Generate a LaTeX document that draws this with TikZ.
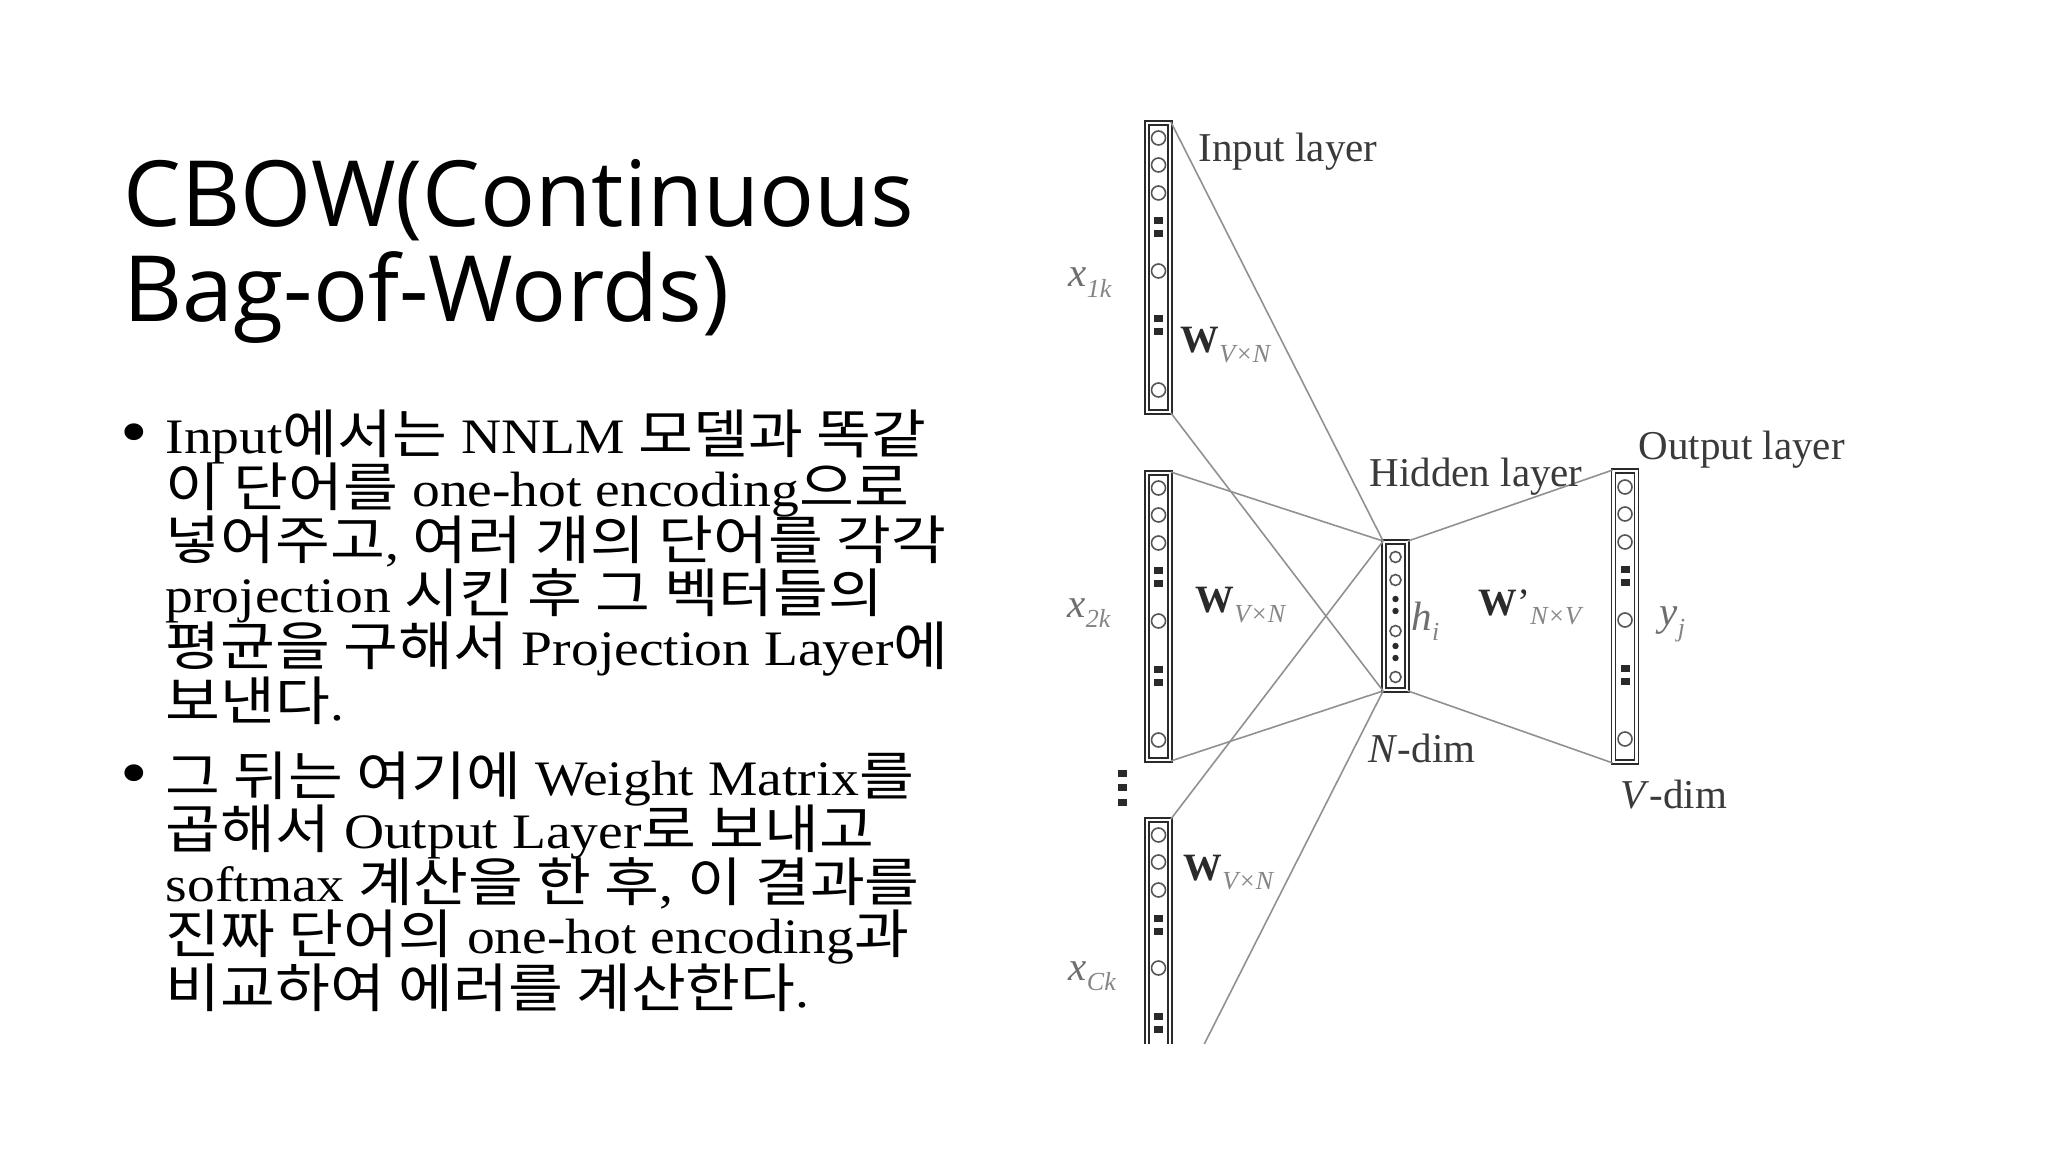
\documentclass[tikz,border=0pt]{standalone}
\usepackage{fontspec}
\setmainfont{Liberation Serif}
\newfontfamily\bodyfont[FakeStretch=1.12]{Liberation Serif}
\newfontfamily\krfont[FakeStretch=1.13]{Noto Sans CJK KR}
\newfontfamily\titlefont{Open Sans}
\definecolor{bx}{HTML}{2A2A2A}
\definecolor{cc}{HTML}{555555}
\definecolor{ln}{HTML}{909090}
\definecolor{dg}{HTML}{3A3A3A}
\definecolor{lg}{HTML}{6E6E6E}
\definecolor{sg}{HTML}{858585}
\newcommand{\hg}[1]{{\krfont\fontsize{15}{15}\selectfont #1}}
\newcommand{\lsub}[1]{\raisebox{-0.55ex}{\fontsize{7.4}{7.4}\selectfont\itshape\color{sg}#1}}
\newcommand{\inunits}[2]{%
  \foreach \o in {15,42,70,148,267} {\draw[unit] (#1,#2+\o) circle (7);}
  \foreach \o in {98,111,196,209} {\fill[bx] (#1-4.5,#2+\o-3.5) rectangle ++(9,7);}
}
\begin{document}
\begin{tikzpicture}[x=0.01cm,y=-0.01cm,
  title/.style={anchor=base west, inner sep=0, font=\titlefont\fontsize{26}{26}\selectfont},
  body/.style={anchor=base west, inner sep=0, font=\bodyfont\fontsize{14.1}{14.1}\selectfont},
  bul/.style={anchor=center, inner sep=0, font=\bodyfont\fontsize{20}{20}\selectfont},
  lbl/.style={anchor=base west, inner sep=0, text=dg, font=\fontsize{11.66}{11.66}\selectfont},
  vlbl/.style={anchor=base west, inner sep=0, text=lg, font=\fontsize{11.66}{11.66}\selectfont\itshape},
  wlbl/.style={anchor=base west, inner sep=0, text=bx, font=\fontsize{11}{11}\selectfont},
  layerbox/.style={rectangle, draw=bx, line width=0.5pt, double=white, double distance=0.6pt, minimum width=0.23cm, inner sep=0},
  conn/.style={draw=ln, line width=0.45pt},
  unit/.style={draw=cc, line width=0.45pt, fill=white}
]
\useasboundingbox (0,0) rectangle (2048,1152);
\fill[white] (0,0) rectangle (2048,1152);

% Title
\node[title] (t1) at (123,227) {CBOW(Continuous};
\node[title] (t2) at (123,322) {Bag-of-Words)};

% Bullet 1
\node[bul] (b1) at (134,440) {•};
\node[body] (l1) at (165,454) {Input\hg{에서는} NNLM \hg{모델과 똑같}};
\node[body] (l2) at (165,507) {\hg{이 단어를} one-hot encoding\hg{으로}};
\node[body] (l3) at (165,560) {\hg{넣어주고}, \hg{여러 개의 단어를 각각}};
\node[body] (l4) at (165,613) {projection \hg{시킨 후 그 벡터들의}};
\node[body] (l5) at (165,666) {\hg{평균을 구해서} Projection Layer\hg{에}};
\node[body] (l6) at (165,720) {\hg{보낸다}.};

% Bullet 2
\node[bul] (b2) at (134,781) {•};
\node[body] (m1) at (165,795) {\hg{그 뒤는 여기에} Weight Matrix\hg{를}};
\node[body] (m2) at (165,848) {\hg{곱해서} Output Layer\hg{로 보내고}};
\node[body] (m3) at (165,901) {softmax \hg{계산을 한 후}, \hg{이 결과를}};
\node[body] (m4) at (165,953) {\hg{진짜 단어의} one-hot encoding\hg{과}};
\node[body] (m5) at (165,1007) {\hg{비교하여 에러를 계산한다}.};

% Diagram
\begin{scope}
\clip (1000,0) rectangle (2048,1043);
\node[layerbox, minimum height=2.89cm] (in1) at (1158.5,267.5) {};
\node[layerbox, minimum height=2.87cm] (in2) at (1158.5,616.5) {};
\node[layerbox, minimum height=2.89cm] (in3) at (1158.5,964.5) {};
\node[layerbox, minimum height=1.48cm] (hid) at (1395.5,616) {};
\node[layerbox, minimum height=2.91cm] (out) at (1625,616.5) {};

\draw[conn] (in1.north east) -- (hid.north west);
\draw[conn] (in1.south east) -- (hid.south west);
\draw[conn] (in2.north east) -- (hid.north west);
\draw[conn] (in2.south east) -- (hid.south west);
\draw[conn] (in3.north east) -- (hid.north west);
\draw[conn] (in3.south east) -- (hid.south west);
\draw[conn] (hid.north east) -- (out.north west);
\draw[conn] (hid.south east) -- (out.south west);

\inunits{1158.5}{123}
\inunits{1158.5}{473}
\inunits{1158.5}{820}
\inunits{1625}{472}
\foreach \o in {15,38,89,135} {\draw[unit] (1395.5,542+\o) circle (5.5);}
\foreach \o in {57,69,104,116} {\fill[bx] (1395.5,542+\o) circle (3.2);}
\foreach \yy in {773,787,802} {\fill[bx] (1117.5,\yy-3.5) rectangle ++(9,7);}
\end{scope}

\node[lbl] (il) at (1198,162) {Input layer};
\node[lbl] (hl) at (1369,487) {Hidden layer};
\node[lbl] (ol) at (1638,460) {Output layer};
\node[lbl] (nd) at (1368,762) {\textit{N}-dim};
\node[lbl] (vd) at (1620,808) {\textit{V}-dim};

\node[vlbl] (x1) at (1068,287) {x\lsub{1k}};
\node[vlbl] (x2) at (1067,617) {x\lsub{2k}};
\node[vlbl] (x3) at (1068,980) {x\lsub{Ck}};
\node[vlbl] (hi) at (1411,630) {h\lsub{i}};
\node[vlbl] (yj) at (1659,626) {y\lsub{j}};

\node[wlbl] (w1) at (1180,353) {\textbf{W}\lsub{V×N}};
\node[wlbl] (w2) at (1195,613) {\textbf{W}\lsub{V×N}};
\node[wlbl] (w3) at (1183,880) {\textbf{W}\lsub{V×N}};
\node[wlbl] (w4) at (1478,615) {\textbf{W}'\lsub{N×V}};
\end{tikzpicture}
\end{document}
